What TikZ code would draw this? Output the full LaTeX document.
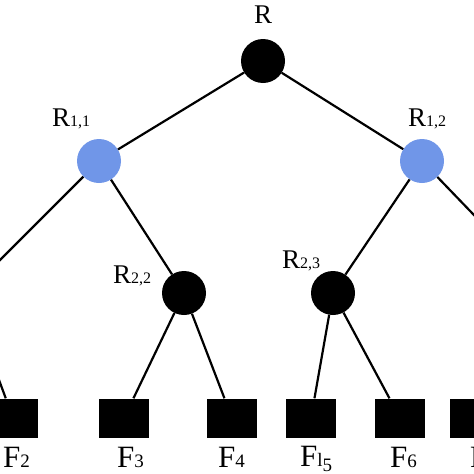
\documentclass[tikz,border=0pt]{standalone}
\usepackage{fontspec}
\setmainfont{Liberation Serif}
\definecolor{nodeblue}{RGB}{112,150,232}
\newcommand\rsub[1]{{\fontsize{16}{18}\selectfont #1}}
\newcommand\fsubtxt[1]{{\fontsize{19}{21}\selectfont #1}}
\begin{document}
\begin{tikzpicture}[x=1pt,y=-1pt,
  innernode/.style={circle,fill=black,minimum size=44pt,inner sep=0pt},
  bluenode/.style={circle,fill=nodeblue,minimum size=44pt,inner sep=0pt},
  leaf/.style={rectangle,fill=black,minimum width=50pt,minimum height=39pt,inner sep=0pt},
  edge/.style={line width=2.2pt},
  rlabel/.style={anchor=base west,inner sep=0pt,font=\fontsize{27}{30}\selectfont},
  flabel/.style={anchor=base west,inner sep=0pt,font=\fontsize{31}{34}\selectfont}]
\useasboundingbox (0,0) rectangle (474,474);
\clip (0,0) rectangle (474,474);
% internal nodes
\node[innernode] (R) at (263,61) {};
\node[bluenode] (R11) at (99,161) {};
\node[bluenode] (R12) at (422,161) {};
\coordinate (R21) at (-33,293);
\node[innernode] (R22) at (184,293) {};
\node[innernode] (R23) at (333,293) {};
\coordinate (R24) at (549,293);
% leaves
\node[leaf] (F2) at (13,418) {};
\node[leaf] (F3) at (124,418) {};
\node[leaf] (F4) at (232,418) {};
\node[leaf] (F5) at (311,418) {};
\node[leaf] (F6) at (400,418) {};
\node[leaf] (F7) at (475,418) {};
% edges
\draw[edge] (R) -- (R11);
\draw[edge] (R) -- (R12);
\draw[edge] (R11) -- (R21);
\draw[edge] (R11) -- (R22);
\draw[edge] (R12) -- (R23);
\draw[edge] (R12) -- (R24);
\draw[edge] (R21) -- (F2);
\draw[edge] (R22) -- (F3);
\draw[edge] (R22) -- (F4);
\draw[edge] (R23) -- (F5);
\draw[edge] (R23) -- (F6);
\draw[edge] (R24) -- (F7);
% labels
\node[rlabel] (lR) at (254,23) {R};
\node[rlabel] (lR11) at (52,126) {R\rsub{1,1}};
\node[rlabel] (lR12) at (408,126) {R\rsub{1,2}};
\node[rlabel] (lR22) at (113,283) {R\rsub{2,2}};
\node[rlabel] (lR23) at (282,268) {R\rsub{2,3}};
\node[flabel] (lF2) at (3,467) {F\fsubtxt{2}};
\node[flabel] (lF3) at (117,467) {F\fsubtxt{3}};
\node[flabel] (lF4) at (218,467) {F\fsubtxt{4}};
\node[flabel] (lF5) at (300,466) {F\fsubtxt{l}\raisebox{-5pt}{\fsubtxt{5}}};
\node[flabel] (lF6) at (390,467) {F\fsubtxt{6}};
\node[flabel] (lF7) at (470,467) {F};
\end{tikzpicture}
\end{document}
